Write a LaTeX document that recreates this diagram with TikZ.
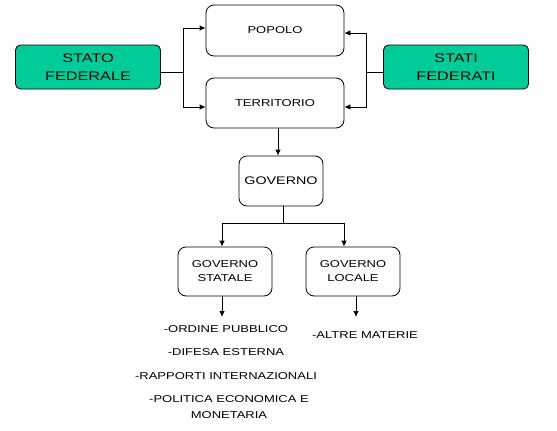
\documentclass[tikz,border=0pt]{standalone}
\usepackage{fontspec}
\setmainfont[FakeStretch=1.3]{Liberation Sans}
\usetikzlibrary{arrows.meta}
\definecolor{fedgreen}{RGB}{0,204,153}
\tikzset{%
	>={Latex[length=6pt,width=5.5pt]},
	cell/.style = {name = #1, draw, rounded corners = 8pt, align = center, inner sep = 0pt},
	fed/.style = {cell = {#1}, fill = fedgreen, rounded corners = 5pt, minimum width = 145pt, minimum height = 44pt, font = \fontsize{12.5}{18}\selectfont},
	small/.style = {font = \fontsize{10}{14}\selectfont},
	voce/.style = {name = #1, inner sep = 0pt, align = center, font = \fontsize{10}{16}\selectfont}
}

\begin{document}
\begin{tikzpicture}[x=1pt,y=-1pt,line width=0.8pt]
			\useasboundingbox (0,0) rectangle (557,431);
			\node [fed = {SF}] at (88,67) {STATO\\FEDERALE};
			\node [fed = {SFD}] at (456,67) {STATI\\FEDERATI};
			\node [cell = {P}, small, minimum width = 138pt, minimum height = 51pt] at (275,30.5) {POPOLO};
			\node [cell = {T}, small, minimum width = 138pt, minimum height = 50pt] at (275,103) {TERRITORIO};
			\node [cell = {G}, font = \fontsize{11}{14}\selectfont, minimum width = 84pt, minimum height = 50pt] at (281,181) {GOVERNO};
			\node [cell = {GS}, small, minimum width = 94pt, minimum height = 49pt] at (225,271.5) {GOVERNO\\STATALE};
			\node [cell = {GL}, small, minimum width = 94pt, minimum height = 49pt] at (353,271.5) {GOVERNO\\LOCALE};
			\node [voce = {ORD}] at (226,329) {-ORDINE PUBBLICO};
			\node [voce = {DIF}] at (226,352) {-DIFESA ESTERNA};
			\node [voce = {RAP}] at (226,376) {-RAPPORTI INTERNAZIONALI};
			\node [voce = {POL}] at (229,407) {-POLITICA ECONOMICA E\\MONETARIA};
			\node [voce = {ALT}] at (365,335) {-ALTRE MATERIE};
			\coordinate (jl) at (183,72);
			\coordinate (jr) at (366,72);
			\coordinate (jg) at (283,223);
			\coordinate (aS) at (222,317);
			\coordinate (aL) at (356,317);
			% stato federale / stati federati
			\draw (SF.east |- jl) -- (jl);
			\draw [->] (jl) |- (P.west |- 0,28);
			\draw [->] (jl) |- (T.west |- 0,107);
			\draw (SFD.west |- jr) -- (jr);
			\draw [->] (jr) |- (P.east |- 0,33);
			\draw [->] (jr) |- (T.east |- 0,107);
			% governo
			\draw [->] (T.south -| 278,0) -- (G.north -| 278,0);
			\draw (G.south -| jg) -- (jg);
			\draw [->] (jg) -| (GS.north -| 222,0);
			\draw [->] (jg) -| (GL.north -| 344,0);
			\draw [->] (GS.south -| aS) -- (aS);
			\draw [->] (GL.south -| aL) -- (aL);
\end{tikzpicture}
\end{document}
